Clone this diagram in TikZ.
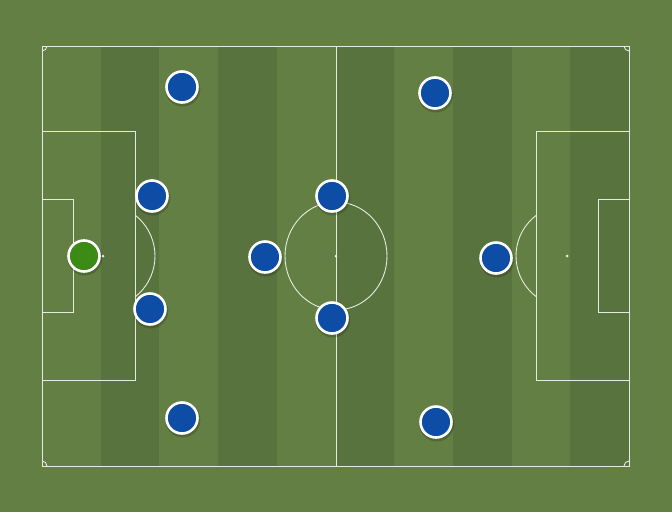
\documentclass[tikz,border=0pt]{standalone}
\begin{document}
\begin{tikzpicture}[x=1pt,y=-1pt]
\definecolor{grassL}{HTML}{637F43}
\definecolor{grassD}{HTML}{58733E}
\definecolor{lineW}{HTML}{E6ECDD}
\definecolor{blueP}{HTML}{0D4DA6}
\definecolor{greenP}{HTML}{3C8B17}
\tikzset{
  pitchline/.style={draw=lineW, line width=0.9pt},
  player/.style={circle, draw=white, line width=2.6pt, minimum size=31pt, inner sep=0pt},
  blueplayer/.style={player, fill=blueP},
  gkplayer/.style={player, fill=greenP},
  spot/.style={circle, fill=lineW, minimum size=3pt, inner sep=0pt}
}
\fill[grassL] (0,0) rectangle (672,512);
\useasboundingbox (0,0) rectangle (672,512);
% stripes
\foreach \i in {1,3,5,7,9} {
  \fill[grassD] ({42+\i*58.7},46) rectangle ({42+(\i+1)*58.7},466);
}
% outline
\draw[pitchline] (42,46) rectangle (629,466);
\draw[pitchline] (336,46) -- (336,466);
\draw[pitchline] (336,256) ellipse [x radius=51, y radius=54];
% left
\draw[pitchline] (42,131) rectangle (135,380);
\draw[pitchline] (42,199) rectangle (73,312);
\begin{scope}
\clip (135,0) rectangle (300,512);
\draw[pitchline] (103,256) circle [radius=52];
\end{scope}
% right
\draw[pitchline] (536,131) rectangle (629,380);
\draw[pitchline] (598,199) rectangle (629,312);
\begin{scope}
\clip (380,0) rectangle (536,512);
\draw[pitchline] (567,256) circle [radius=51];
\end{scope}
% corners
\draw[pitchline] (47,46) arc[start angle=0, end angle=90, radius=5];
\draw[pitchline] (624,46) arc[start angle=180, end angle=90, radius=5];
\draw[pitchline] (47,466) arc[start angle=0, end angle=-90, radius=5];
\draw[pitchline] (624,466) arc[start angle=180, end angle=270, radius=5];
% spots
\node[spot] (cs) at (336,256) {};
\node[spot] (ls) at (103,256) {};
\node[spot] (rs) at (567,256) {};
% shadows
\foreach \px/\py in {182/87,435/93,152/196,332/196,84/256,265/257,496/258,150/309,332/318,182/418,436/422} {
  \fill[black, opacity=0.18] (\px+0.8,\py+2) circle [radius=17.5];
}
% players
\node[blueplayer] (p1) at (182,87) {};
\node[blueplayer] (p2) at (435,93) {};
\node[blueplayer] (p3) at (152,196) {};
\node[blueplayer] (p4) at (332,196) {};
\node[gkplayer] (gk) at (84,256) {};
\node[blueplayer] (p5) at (265,257) {};
\node[blueplayer] (p6) at (496,258) {};
\node[blueplayer] (p7) at (150,309) {};
\node[blueplayer] (p8) at (332,318) {};
\node[blueplayer] (p9) at (182,418) {};
\node[blueplayer] (p10) at (436,422) {};
\end{tikzpicture}
\end{document}
